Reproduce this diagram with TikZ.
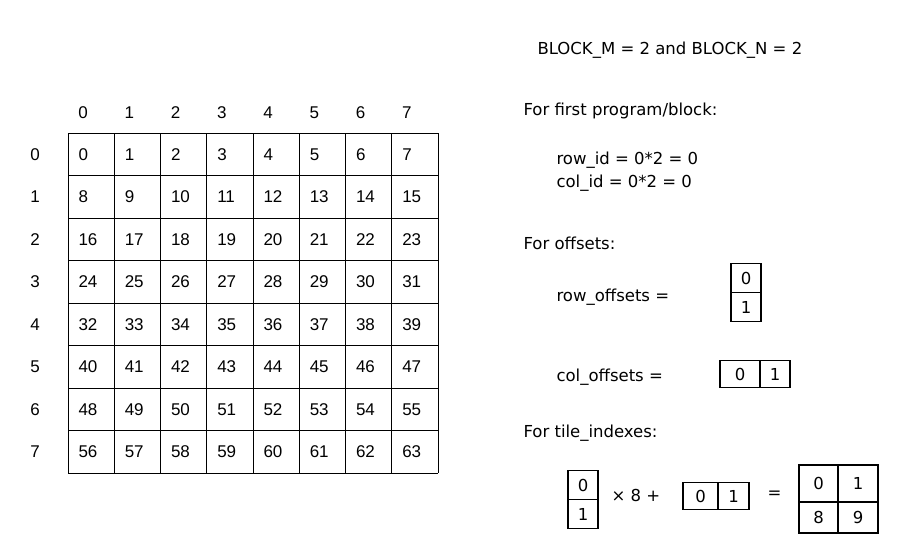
\documentclass[tikz,border=0pt]{standalone}
\usepackage{fontspec}
\setmainfont{Liberation Sans}
\newfontfamily\hand{DejaVu Sans}
\begin{document}
\begin{tikzpicture}[x=1pt,y=-1pt,
  cellnum/.style={anchor=west,font=\fontsize{17}{19}\selectfont},
  lbl/.style={font=\fontsize{17}{19}\selectfont},
  htext/.style={anchor=west,font=\hand\fontsize{16.5}{20}\selectfont},
  hbox/.style={draw,line width=1.3pt,font=\hand\fontsize{16.5}{20}\selectfont,inner sep=0pt,minimum width=30pt,minimum height=29pt}]
\useasboundingbox (0,0) rectangle (900,547);
\def\cw{46.25}\def\rh{42.5}
\foreach \c in {0,...,7}{
  \node[lbl] (ch\c) at ({68+\cw*\c+15},113) {\c};
  \node[lbl] (rh\c) at (35,{133+\rh*\c+\rh/2}) {\c};
  \foreach \r in {0,...,7}{
    \pgfmathtruncatemacro{\v}{\r*8+\c}
    \node[cellnum] (g\r\c) at ({68+\cw*\c+7},{133+\rh*\r+\rh/2}) {\v};
  }
}
\foreach \i in {0,...,8}{
  \draw[line width=0.8pt] ({68+\cw*\i},133) -- ({68+\cw*\i},473);
  \draw[line width=0.8pt] (68,{133+\rh*\i}) -- (438,{133+\rh*\i});
}
\node[htext] (t1) at (534,50) {BLOCK\_M = 2 and BLOCK\_N = 2};
\node[htext] (t2) at (520,111) {For first program/block:};
\node[htext] (t3) at (553,160) {row\_id = 0*2 = 0};
\node[htext] (t4) at (553,183) {col\_id = 0*2 = 0};
\node[htext] (t5) at (520,243) {For offsets:};
\node[htext] (t6) at (553,297) {row\_offsets =};
\node[hbox] (ro0) at (746,278) {0};
\node[hbox] (ro1) at (746,307) {1};
\node[htext] (t7) at (553,377) {col\_offsets =};
\node[hbox,minimum width=40pt,minimum height=27pt] (co0) at (740,374) {0};
\node[hbox,minimum width=30pt,minimum height=27pt] (co1) at (775,374) {1};
\node[htext] (t8) at (520,433) {For tile\_indexes:};
\node[hbox] (a0) at (583,485) {0};
\node[hbox] (a1) at (583,514) {1};
\node[htext] (t9) at (608,495) {× 8 +};
\node[hbox,minimum width=35pt,minimum height=27pt] (b0) at (700.5,496) {0};
\node[hbox,minimum width=31pt,minimum height=27pt] (b1) at (733.5,496) {1};
\node[htext] (t10) at (764,495) {=};
\node[hbox,minimum width=39pt,minimum height=37pt] (c0) at (818.5,483.5) {0};
\node[hbox,minimum width=40pt,minimum height=37pt] (c1) at (858,483.5) {1};
\node[hbox,minimum width=39pt,minimum height=31pt] (c2) at (818.5,517.5) {8};
\node[hbox,minimum width=40pt,minimum height=31pt] (c3) at (858,517.5) {9};
\end{tikzpicture}
\end{document}
